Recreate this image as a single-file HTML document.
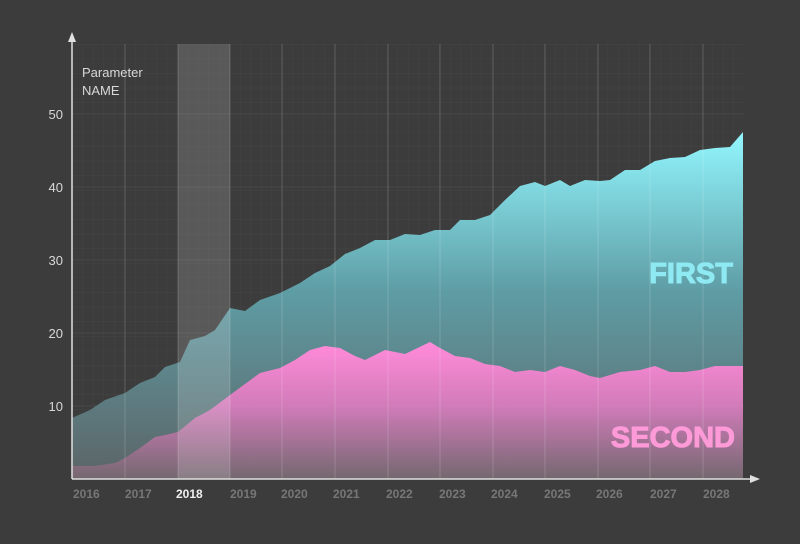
<!DOCTYPE html>
<html><head><meta charset="utf-8"><style>
html,body{margin:0;padding:0;background:#3c3c3c;}
svg{display:block;}
text{font-family:"Liberation Sans",sans-serif;}
</style></head><body>
<svg width="800" height="544" viewBox="0 0 800 544" xmlns="http://www.w3.org/2000/svg">
<defs>
<linearGradient id="g1" gradientUnits="userSpaceOnUse" x1="0" y1="140" x2="0" y2="479">
<stop offset="0" stop-color="#90f2fa"/><stop offset="0.45" stop-color="#5e9ca4"/><stop offset="1" stop-color="#5c6466"/>
</linearGradient>
<linearGradient id="g2" gradientUnits="userSpaceOnUse" x1="0" y1="345" x2="0" y2="479">
<stop offset="0" stop-color="#ff8ad8"/><stop offset="0.45" stop-color="#d27cba"/><stop offset="1" stop-color="#746870"/>
</linearGradient>
<pattern id="minor" width="10.5" height="14.6" patternUnits="userSpaceOnUse" x="72" y="44">
<path d="M0 0V14.6M0 0H10.5" stroke="#444" stroke-width="1" fill="none"/>
</pattern>
</defs>
<rect x="72" y="44" width="672" height="435" fill="url(#minor)"/>
<g stroke="#484848" stroke-width="1">
<line x1="72" y1="114" x2="744" y2="114"/><line x1="72" y1="187" x2="744" y2="187"/>
<line x1="72" y1="260" x2="744" y2="260"/><line x1="72" y1="333" x2="744" y2="333"/><line x1="72" y1="406" x2="744" y2="406"/>
</g>
<polygon fill="url(#g1)" points="72,479 72,418 90,410 105,400 125,393 140,383 155,377 165,367 180,362 190,340 205,336 215,330 230,308 245,311 260,300 280,293 300,283 315,273 330,266 345,254 360,248 375,240 390,240 405,234 420,235 435,230 450,230 460,220 475,220 490,215 505,200 520,186 535,182 545,186 560,180 570,186 585,180 600,181 610,180 625,170 640,170 655,161 670,158 685,157 700,150 715,148 730,147 743,132 743,479"/>
<polygon fill="url(#g2)" points="72,479 72,466 95,466 115,463 125,458 140,448 155,437 165,435 178,432 195,418 210,410 230,395 245,384 260,373 280,368 295,360 310,350 325,346 340,348 355,356 365,360 385,350 405,354 430,342 440,348 455,356 470,358 485,364 500,366 515,372 530,370 545,372 560,366 575,370 590,376 600,378 620,372 640,370 655,366 670,372 685,372 700,370 715,366 743,366 743,479"/>
<rect x="178" y="44" width="52" height="435" fill="#ffffff" opacity="0.15"/>
<g stroke="#ffffff" stroke-opacity="0.14" stroke-width="1.2">
<line x1="125" y1="44" x2="125" y2="479"/><line x1="178" y1="44" x2="178" y2="479"/><line x1="230" y1="44" x2="230" y2="479"/>
<line x1="282" y1="44" x2="282" y2="479"/><line x1="335" y1="44" x2="335" y2="479"/><line x1="388" y1="44" x2="388" y2="479"/>
<line x1="440" y1="44" x2="440" y2="479"/><line x1="493" y1="44" x2="493" y2="479"/><line x1="545" y1="44" x2="545" y2="479"/>
<line x1="598" y1="44" x2="598" y2="479"/><line x1="650" y1="44" x2="650" y2="479"/><line x1="703" y1="44" x2="703" y2="479"/>
</g>
<line x1="72" y1="479" x2="752" y2="479" stroke="#e0e0e0" stroke-width="1.5"/>
<polygon points="760,479 750,475 750,483" fill="#e0e0e0"/>
<line x1="72" y1="479" x2="72" y2="40" stroke="#e0e0e0" stroke-width="1.5"/>
<polygon points="72,32 68,42 76,42" fill="#e0e0e0"/>
<g fill="#d8d8d8" font-size="13">
<text x="82" y="77">Parameter</text><text x="82" y="95">NAME</text>
</g>
<g fill="#d8d8d8" font-size="13" text-anchor="end">
<text x="63" y="119">50</text><text x="63" y="192">40</text><text x="63" y="265">30</text><text x="63" y="338">20</text><text x="63" y="411">10</text>
</g>
<g fill="#777" font-size="12" font-weight="bold">
<text x="73" y="498">2016</text><text x="125" y="498">2017</text><text x="230" y="498">2019</text>
<text x="281" y="498">2020</text><text x="333" y="498">2021</text><text x="386" y="498">2022</text><text x="439" y="498">2023</text>
<text x="491" y="498">2024</text><text x="544" y="498">2025</text><text x="596" y="498">2026</text><text x="650" y="498">2027</text><text x="703" y="498">2028</text>
</g>
<text x="176" y="498" fill="#f0f0f0" font-size="12" font-weight="bold">2018</text>
<text x="733" y="283" fill="#8ee9f2" font-size="29" font-weight="bold" text-anchor="end" stroke="#8ee9f2" stroke-width="1">FIRST</text>
<text x="735" y="447" fill="#ff9ad8" font-size="29" font-weight="bold" text-anchor="end" stroke="#ff9ad8" stroke-width="1">SECOND</text>
</svg>
</body></html>
